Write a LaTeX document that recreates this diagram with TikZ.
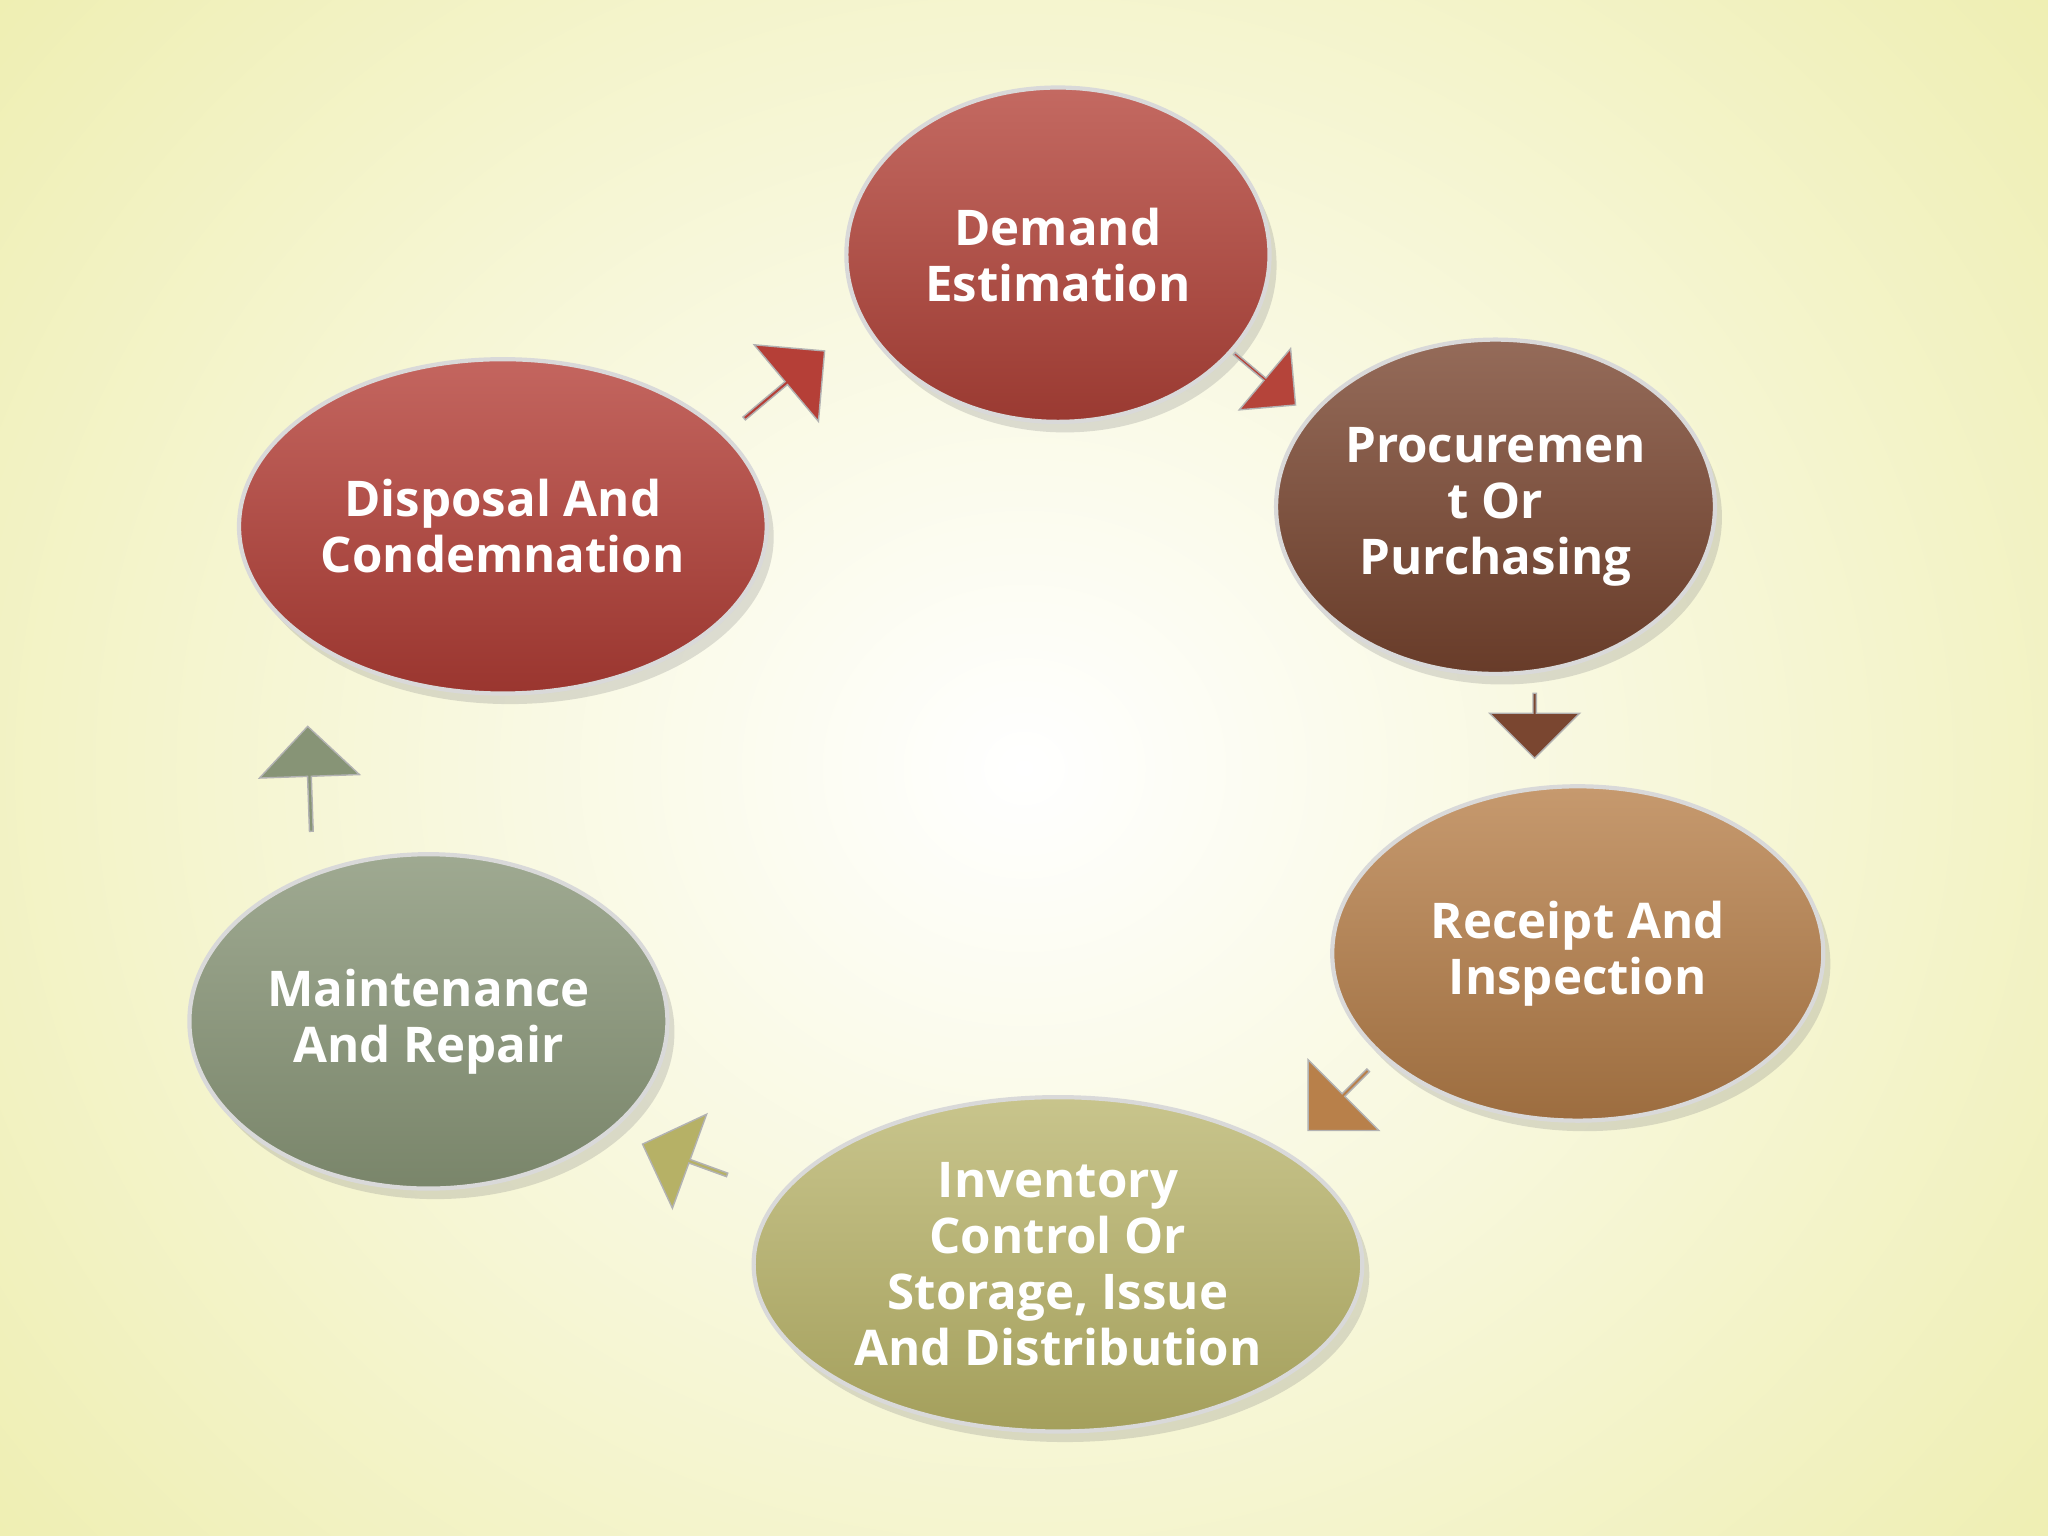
\documentclass[tikz,border=0pt]{standalone}
\usepackage{fontspec}
\setmainfont{Open Sans}
\usetikzlibrary{shapes.geometric,shapes.arrows,shadows}
\begin{document}
\begin{tikzpicture}[x=0.01306cm,y=-0.01306cm,
  el/.style={ellipse,draw=white!85!black,line width=1.2pt,text=white,font=\fontsize{14}{16}\selectfont\bfseries,align=center,inner sep=0pt,drop shadow={opacity=0.25,shadow xshift=2pt,shadow yshift=-3pt}},
  ar/.style={single arrow,minimum height=1.05cm,minimum width=1.0cm,single arrow head extend=0.18cm,inner sep=0pt,draw=white!70!black,line width=0.4pt}]
\useasboundingbox (0,0) rectangle (1568,1176);
\shade[inner color=white,outer color=yellow!45!olive!25!white] (-300,-400) rectangle (1868,1576);
\definecolor{cDem}{HTML}{B5443A}
\definecolor{cPro}{HTML}{7A4630}
\definecolor{cRec}{HTML}{B8804A}
\definecolor{cInv}{HTML}{B6B166}
\definecolor{cMai}{HTML}{879476}
\definecolor{cDis}{HTML}{B53F37}
\node[el,minimum width=324\pgflinewidth/\pgflinewidth*0.01306cm,minimum height=256*0.01306cm,top color=cDem!80!white,bottom color=cDem!85!black] (dem) at (810,195) {Demand\\Estimation};
\node[el,minimum width=336*0.01306cm,minimum height=256*0.01306cm,top color=cPro!80!white,bottom color=cPro!85!black] (pro) at (1145,388) {Procuremen\\t Or\\Purchasing};
\node[el,minimum width=376*0.01306cm,minimum height=256*0.01306cm,top color=cRec!80!white,bottom color=cRec!85!black] (rec) at (1208,730) {Receipt And\\Inspection};
\node[el,minimum width=466*0.01306cm,minimum height=256*0.01306cm,top color=cInv!75!white,bottom color=cInv!90!black] (inv) at (810,968) {Inventory\\Control Or\\Storage, Issue\\And Distribution};
\node[el,minimum width=366*0.01306cm,minimum height=256*0.01306cm,top color=cMai!80!white,bottom color=cMai!90!black] (mai) at (328,782) {Maintenance\\And Repair};
\node[el,minimum width=404*0.01306cm,minimum height=256*0.01306cm,top color=cDis!80!white,bottom color=cDis!85!black] (dis) at (385,403) {Disposal And\\Condemnation};
\node[ar,fill=cDis,rotate=40] (a1) at (600,295) {};
\node[ar,fill=cDem,rotate=-40,minimum height=0.8cm,minimum width=0.8cm] (a2) at (968,290) {};
\node[ar,fill=cPro,rotate=-90,minimum height=0.65cm,minimum width=0.9cm] (a3) at (1175,555) {};
\node[ar,fill=cRec,rotate=225,minimum height=0.85cm] (a4) at (1025,842) {};
\node[ar,fill=cInv,rotate=160,minimum height=0.9cm] (a5) at (525,888) {};
\node[ar,fill=cMai,rotate=92] (a6) at (237,597) {};
\end{tikzpicture}
\end{document}
